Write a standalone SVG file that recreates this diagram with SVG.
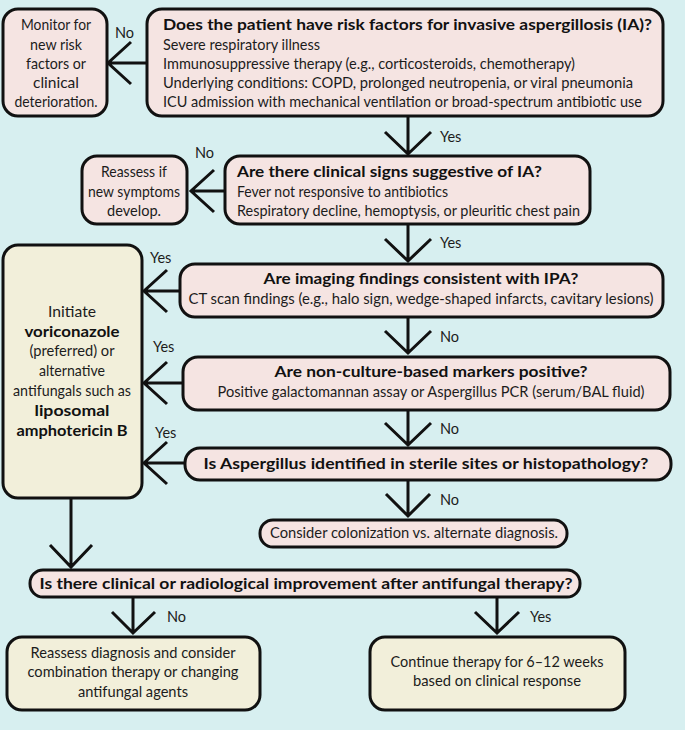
<svg xmlns="http://www.w3.org/2000/svg" width="685" height="730" viewBox="0 0 685 730">
<style>
.bg{fill:#d7eff0}
.q{fill:#f5e4e2;stroke:#111;stroke-width:3}
.a{fill:#f2efda;stroke:#111;stroke-width:3}
text{font-family:Lato,"Open Sans","Liberation Sans",sans-serif;font-size:15px;fill:#1c1c1c}
.b{font-weight:bold;font-size:15px;fill:#111}
.m{text-anchor:middle}
.c{fill:none;stroke:#111;stroke-width:3}
.l{font-size:14.5px}
</style>
<rect class="bg" x="0" y="0" width="685" height="730"/>
<g id="connectors">
<path class="c" d="M147 63H108M131 42L108 63L131 84"/>
<path class="c" d="M408 116V154M385 132L408 154L431 132"/>
<path class="c" d="M225 191H191M214 170L191 191L214 212"/>
<path class="c" d="M408 224V261M385 239L408 261L431 239"/>
<path class="c" d="M180 291H144M167 270L144 291L167 312"/>
<path class="c" d="M408 317V353M385 331L408 353L431 331"/>
<path class="c" d="M183 383H144M167 362L144 383L167 404"/>
<path class="c" d="M408 410V445M385 423L408 445L431 423"/>
<path class="c" d="M185 463H144M167 442L144 463L167 484"/>
<path class="c" d="M408 480V516M386 494L408 516L430 494"/>
<path class="c" d="M71 498V567M50 545L71 567L92 545"/>
<path class="c" d="M133 597V633M112 612L133 633L155 612"/>
<path class="c" d="M497 597V633M475 612L497 633L519 612"/>
<text x="115" y="38" class="l">No</text>
<text x="440" y="142" class="l">Yes</text>
<text x="195" y="158" class="l">No</text>
<text x="440" y="248" class="l">Yes</text>
<text x="150" y="263" class="l">Yes</text>
<text x="440" y="342" class="l">No</text>
<text x="153" y="352" class="l">Yes</text>
<text x="440" y="434" class="l">No</text>
<text x="155" y="438" class="l">Yes</text>
<text x="440" y="505" class="l">No</text>
<text x="167" y="622" class="l">No</text>
<text x="530" y="622" class="l">Yes</text>
</g>
<g id="monitor">
<rect class="q" x="3" y="9" width="104" height="107" rx="15"/>
<text class="m" x="56" y="30" textLength="70" lengthAdjust="spacingAndGlyphs">Monitor for</text>
<text class="m" x="56" y="50" textLength="52" lengthAdjust="spacingAndGlyphs">new risk</text>
<text class="m" x="56" y="69" textLength="60" lengthAdjust="spacingAndGlyphs">factors or</text>
<text class="m" x="56" y="88" textLength="46" lengthAdjust="spacingAndGlyphs">clinical</text>
<text class="m" x="56" y="107" textLength="83" lengthAdjust="spacingAndGlyphs">deterioration.</text>
</g>
<g id="risk">
<rect class="q" x="147" y="9" width="516" height="107" rx="15"/>
<text class="b" x="163" y="30" textLength="489" lengthAdjust="spacingAndGlyphs">Does the patient have risk factors for invasive aspergillosis (IA)?</text>
<text x="163" y="50" textLength="157" lengthAdjust="spacingAndGlyphs">Severe respiratory illness</text>
<text x="163" y="69" textLength="412" lengthAdjust="spacingAndGlyphs">Immunosuppressive therapy (e.g., corticosteroids, chemotherapy)</text>
<text x="163" y="88" textLength="470" lengthAdjust="spacingAndGlyphs">Underlying conditions: COPD, prolonged neutropenia, or viral pneumonia</text>
<text x="163" y="107" textLength="479" lengthAdjust="spacingAndGlyphs">ICU admission with mechanical ventilation or broad-spectrum antibiotic use</text>
</g>
<g id="reassess1">
<rect class="q" x="82" y="156" width="105" height="68" rx="15"/>
<text class="m" x="134" y="177" textLength="66" lengthAdjust="spacingAndGlyphs">Reassess if</text>
<text class="m" x="134" y="197" textLength="92" lengthAdjust="spacingAndGlyphs">new symptoms</text>
<text class="m" x="134" y="216" textLength="54" lengthAdjust="spacingAndGlyphs">develop.</text>
</g>
<g id="signs">
<rect class="q" x="225" y="156" width="365" height="68" rx="15"/>
<text class="b" x="237" y="177" textLength="305" lengthAdjust="spacingAndGlyphs">Are there clinical signs suggestive of IA?</text>
<text x="237" y="197" textLength="211" lengthAdjust="spacingAndGlyphs">Fever not responsive to antibiotics</text>
<text x="237" y="216" textLength="343" lengthAdjust="spacingAndGlyphs">Respiratory decline, hemoptysis, or pleuritic chest pain</text>
</g>
<g id="imaging">
<rect class="q" x="180" y="264" width="483" height="53" rx="15"/>
<text class="b m" x="421" y="284" textLength="315" lengthAdjust="spacingAndGlyphs">Are imaging findings consistent with IPA?</text>
<text class="m" x="421" y="304" textLength="465" lengthAdjust="spacingAndGlyphs">CT scan findings (e.g., halo sign, wedge-shaped infarcts, cavitary lesions)</text>
</g>
<g id="markers">
<rect class="q" x="183" y="357" width="487" height="53" rx="15"/>
<text class="b m" x="431" y="377" textLength="313" lengthAdjust="spacingAndGlyphs">Are non-culture-based markers positive?</text>
<text class="m" x="431" y="397" textLength="427" lengthAdjust="spacingAndGlyphs">Positive galactomannan assay or Aspergillus PCR (serum/BAL fluid)</text>
</g>
<g id="sterile">
<rect class="q" x="185" y="448" width="486" height="32" rx="15"/>
<text class="b m" x="426" y="469" textLength="445" lengthAdjust="spacingAndGlyphs">Is Aspergillus identified in sterile sites or histopathology?</text>
</g>
<g id="consider">
<rect class="q" x="260" y="520" width="307" height="27" rx="13"/>
<text class="m" x="414" y="538" textLength="288" lengthAdjust="spacingAndGlyphs">Consider colonization vs. alternate diagnosis.</text>
</g>
<g id="initiate">
<rect class="a" x="3" y="245" width="139" height="253" rx="15"/>
<text class="m" x="72" y="317" textLength="48" lengthAdjust="spacingAndGlyphs">Initiate</text>
<text class="b m" x="72" y="337" textLength="95" lengthAdjust="spacingAndGlyphs">voriconazole</text>
<text class="m" x="72" y="356" textLength="85" lengthAdjust="spacingAndGlyphs">(preferred) or</text>
<text class="m" x="72" y="376" textLength="66" lengthAdjust="spacingAndGlyphs">alternative</text>
<text class="m" x="72" y="396" textLength="118" lengthAdjust="spacingAndGlyphs">antifungals such as</text>
<text class="b m" x="72" y="416" textLength="75" lengthAdjust="spacingAndGlyphs">liposomal</text>
<text class="b m" x="72" y="436" textLength="111" lengthAdjust="spacingAndGlyphs">amphotericin B</text>
</g>
<g id="improvement">
<rect class="q" x="30" y="570" width="550" height="27" rx="13"/>
<text class="b m" x="306" y="589" textLength="533" lengthAdjust="spacingAndGlyphs">Is there clinical or radiological improvement after antifungal therapy?</text>
</g>
<g id="reassess2">
<rect class="a" x="7" y="637" width="253" height="73" rx="15"/>
<text class="m" x="133" y="658" textLength="205" lengthAdjust="spacingAndGlyphs">Reassess diagnosis and consider</text>
<text class="m" x="133" y="677" textLength="211" lengthAdjust="spacingAndGlyphs">combination therapy or changing</text>
<text class="m" x="133" y="697" textLength="110" lengthAdjust="spacingAndGlyphs">antifungal agents</text>
</g>
<g id="continue">
<rect class="a" x="370" y="637" width="255" height="73" rx="15"/>
<text class="m" x="497" y="667" textLength="213" lengthAdjust="spacingAndGlyphs">Continue therapy for 6–12 weeks</text>
<text class="m" x="497" y="686" textLength="168" lengthAdjust="spacingAndGlyphs">based on clinical response</text>
</g>
</svg>
